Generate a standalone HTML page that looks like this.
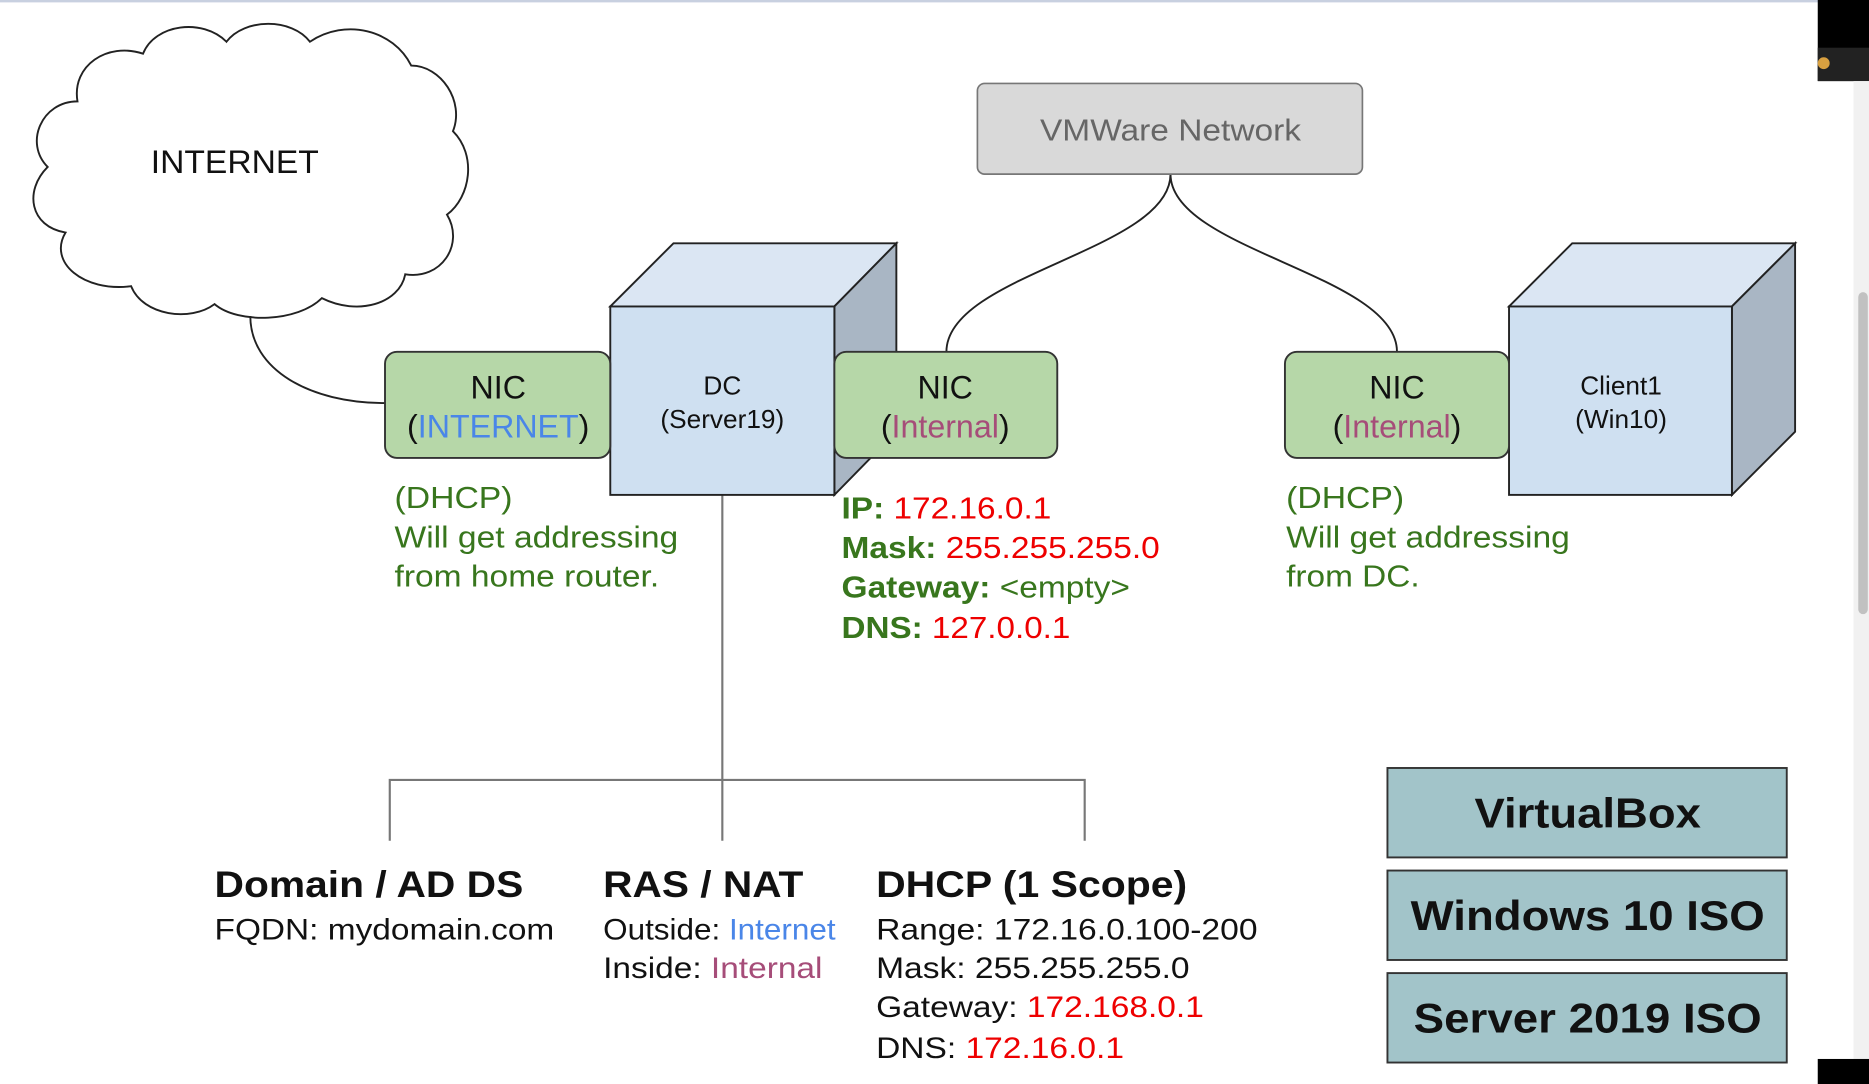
<!DOCTYPE html>
<html><head><meta charset="utf-8"><style>
html,body{margin:0;padding:0;background:#fff;overflow:hidden}
svg{display:block}
text{font-family:"Liberation Sans",sans-serif}
</style></head><body>
<svg width="1869" height="1084" viewBox="0 0 1568 909" preserveAspectRatio="none" xmlns="http://www.w3.org/2000/svg">
<rect x="0" y="0" width="1568" height="909" fill="#fff"/>
<rect x="0" y="0" width="1568" height="2" fill="#c8d0e0"/>
<!-- right chrome -->
<rect x="1525" y="0" width="43" height="68" fill="#000"/>
<rect x="1525" y="40" width="43" height="28" fill="#222"/>
<circle cx="1530" cy="53" r="5" fill="#d8a040"/>
<rect x="1555" y="68" width="13" height="820" fill="#f1f1f1"/>
<rect x="1559" y="245" width="8" height="270" rx="4" fill="#c1c1c1"/>
<rect x="1525" y="888" width="43" height="21" fill="#000"/>
<!-- cloud -->
<path d="M110,240 C70,245 40,220 55,195 C25,190 20,160 40,140 C20,120 35,85 65,85 C60,55 90,35 120,45 C130,20 170,15 190,35 C205,15 245,15 260,35 C290,15 330,25 345,55 C370,55 390,85 380,110 C400,130 395,165 375,180 C390,205 370,235 340,230 C335,255 300,265 270,250 C250,270 200,272 180,255 C160,270 120,265 110,240 Z" fill="#fff" stroke="#222" stroke-width="1.6"/>
<text x="197" y="145" font-size="27" text-anchor="middle" fill="#111" textLength="141" lengthAdjust="spacingAndGlyphs">INTERNET</text>
<!-- connectors -->
<path d="M210,265 C210,310 260,338 323,338" fill="none" stroke="#222" stroke-width="1.6"/>
<path d="M982,146 C982,210 794,230 794,295" fill="none" stroke="#222" stroke-width="1.6"/>
<path d="M982,146 C982,210 1172,230 1172,295" fill="none" stroke="#222" stroke-width="1.6"/>
<path d="M606,415 V705 M327,705 V654 H910 V705" fill="none" stroke="#777" stroke-width="1.8"/>
<!-- VMWare -->
<rect x="820" y="70" width="323" height="76" rx="6" fill="#d9d9d9" stroke="#777" stroke-width="1.4"/>
<text x="982" y="118" font-size="26" text-anchor="middle" fill="#666" textLength="219" lengthAdjust="spacingAndGlyphs">VMWare Network</text>
<!-- DC cube -->
<polygon points="512,257 565,204 752,204 700,257" fill="#dbe6f3" stroke="#222" stroke-width="1.6"/>
<polygon points="700,257 752,204 752,362 700,415" fill="#a9b6c4" stroke="#222" stroke-width="1.6"/>
<rect x="512" y="257" width="188" height="158" fill="#cfe0f1" stroke="#222" stroke-width="1.6"/>
<text x="606" y="331" font-size="22" text-anchor="middle" fill="#111">DC</text>
<text x="606" y="359" font-size="22" text-anchor="middle" fill="#111">(Server19)</text>
<!-- Client cube -->
<polygon points="1266,257 1319,204 1506,204 1453,257" fill="#dbe6f3" stroke="#222" stroke-width="1.6"/>
<polygon points="1453,257 1506,204 1506,362 1453,415" fill="#a9b6c4" stroke="#222" stroke-width="1.6"/>
<rect x="1266" y="257" width="187" height="158" fill="#cfe0f1" stroke="#222" stroke-width="1.6"/>
<text x="1360" y="331" font-size="22" text-anchor="middle" fill="#111">Client1</text>
<text x="1360" y="359" font-size="22" text-anchor="middle" fill="#111">(Win10)</text>
<!-- NICs -->
<rect x="323" y="295" width="189" height="89" rx="10" fill="#b6d7a8" stroke="#333" stroke-width="1.6"/>
<text x="418" y="334" font-size="27" text-anchor="middle" fill="#111">NIC</text>
<text x="418" y="367" font-size="27" text-anchor="middle" fill="#111">(<tspan fill="#4a86e8">INTERNET</tspan>)</text>
<rect x="700" y="295" width="187" height="89" rx="10" fill="#b6d7a8" stroke="#333" stroke-width="1.6"/>
<text x="793" y="334" font-size="27" text-anchor="middle" fill="#111">NIC</text>
<text x="793" y="367" font-size="27" text-anchor="middle" fill="#111">(<tspan fill="#a64d79">Internal</tspan>)</text>
<rect x="1078" y="295" width="188" height="89" rx="10" fill="#b6d7a8" stroke="#333" stroke-width="1.6"/>
<text x="1172" y="334" font-size="27" text-anchor="middle" fill="#111">NIC</text>
<text x="1172" y="367" font-size="27" text-anchor="middle" fill="#111">(<tspan fill="#a64d79">Internal</tspan>)</text>
<!-- green notes -->
<g font-size="26" fill="#38761d" lengthAdjust="spacingAndGlyphs">
<text x="331" y="426" textLength="99" lengthAdjust="spacingAndGlyphs">(DHCP)</text>
<text x="331" y="459" textLength="238" lengthAdjust="spacingAndGlyphs">Will get addressing</text>
<text x="331" y="492" textLength="222" lengthAdjust="spacingAndGlyphs">from home router.</text>
<text x="1079" y="426" textLength="99" lengthAdjust="spacingAndGlyphs">(DHCP)</text>
<text x="1079" y="459" textLength="238" lengthAdjust="spacingAndGlyphs">Will get addressing</text>
<text x="1079" y="492" textLength="112" lengthAdjust="spacingAndGlyphs">from DC.</text>
</g>
<g font-size="26">
<text x="706" y="435" fill="#38761d" textLength="176" lengthAdjust="spacingAndGlyphs"><tspan font-weight="bold">IP:</tspan> <tspan fill="#e00">172.16.0.1</tspan></text>
<text x="706" y="468" fill="#38761d" textLength="267" lengthAdjust="spacingAndGlyphs"><tspan font-weight="bold">Mask:</tspan> <tspan fill="#e00">255.255.255.0</tspan></text>
<text x="706" y="501" fill="#38761d" textLength="242" lengthAdjust="spacingAndGlyphs"><tspan font-weight="bold">Gateway:</tspan> <tspan>&lt;empty&gt;</tspan></text>
<text x="706" y="535" fill="#38761d" textLength="192" lengthAdjust="spacingAndGlyphs"><tspan font-weight="bold">DNS:</tspan> <tspan fill="#e00">127.0.0.1</tspan></text>
</g>
<!-- bottom roles -->
<g fill="#111">
<text x="180" y="752" font-size="31" font-weight="bold" textLength="259" lengthAdjust="spacingAndGlyphs">Domain / AD DS</text>
<text x="180" y="788" font-size="25" textLength="285" lengthAdjust="spacingAndGlyphs">FQDN: mydomain.com</text>
<text x="506" y="752" font-size="31" font-weight="bold" textLength="168" lengthAdjust="spacingAndGlyphs">RAS / NAT</text>
<text x="506" y="788" font-size="25" textLength="195" lengthAdjust="spacingAndGlyphs">Outside: <tspan fill="#4a86e8">Internet</tspan></text>
<text x="506" y="820" font-size="25" textLength="184" lengthAdjust="spacingAndGlyphs">Inside: <tspan fill="#a64d79">Internal</tspan></text>
<text x="735" y="752" font-size="31" font-weight="bold" textLength="261" lengthAdjust="spacingAndGlyphs">DHCP (1 Scope)</text>
<text x="735" y="788" font-size="25" textLength="320" lengthAdjust="spacingAndGlyphs">Range: 172.16.0.100-200</text>
<text x="735" y="820" font-size="25" textLength="263" lengthAdjust="spacingAndGlyphs">Mask: 255.255.255.0</text>
<text x="735" y="853" font-size="25" textLength="275" lengthAdjust="spacingAndGlyphs">Gateway: <tspan fill="#e00">172.168.0.1</tspan></text>
<text x="735" y="887" font-size="25" textLength="208" lengthAdjust="spacingAndGlyphs">DNS: <tspan fill="#e00">172.16.0.1</tspan></text>
</g>
<!-- right boxes -->
<g stroke="#333" stroke-width="1.6" fill="#a2c4c9">
<rect x="1164" y="644" width="335" height="75"/>
<rect x="1164" y="730" width="335" height="75"/>
<rect x="1164" y="816" width="335" height="75"/>
</g>
<g font-size="35" font-weight="bold" text-anchor="middle" fill="#111">
<text x="1332" y="694" textLength="190" lengthAdjust="spacingAndGlyphs">VirtualBox</text>
<text x="1332" y="780" textLength="297" lengthAdjust="spacingAndGlyphs">Windows 10 ISO</text>
<text x="1332" y="866" textLength="292" lengthAdjust="spacingAndGlyphs">Server 2019 ISO</text>
</g>
</svg>
</body></html>
